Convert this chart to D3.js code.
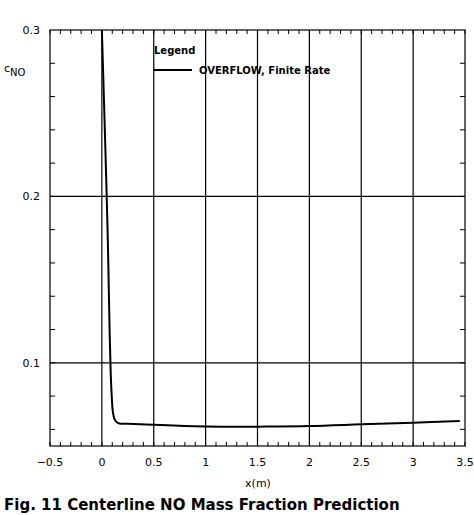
<!DOCTYPE html>
<html><head><meta charset="utf-8">
<script src="https://cdn.jsdelivr.net/npm/d3@7"></script>
<style>body{margin:0;background:#fff}svg{display:block}text{font-family:"DejaVu Sans",sans-serif}</style>
</head><body>
<script>
// centerline NO mass fraction
const xs = [0.0, 0.02, 0.04, 0.055, 0.065, 0.075, 0.085, 0.095, 0.105, 0.12, 0.14, 0.17, 0.25, 0.5, 0.8, 1.0, 1.3, 1.5, 2.0, 2.5, 3.0, 3.45];
const cno = [0.300, 0.258, 0.215, 0.180, 0.150, 0.118, 0.094, 0.080, 0.071, 0.0665, 0.0645, 0.0635, 0.0633, 0.0628, 0.062, 0.0617, 0.0615, 0.0616, 0.062, 0.063, 0.064, 0.065];
const xTicks = [-0.5, 0, 0.5, 1, 1.5, 2, 2.5, 3, 3.5];
const yTicks = [0.1, 0.2, 0.3];
const legendLabel = "OVERFLOW, Finite Rate";

const W = 474, H = 515;
const svg = d3.select("body").append("svg").attr("width", W).attr("height", H);
const x = d3.scaleLinear().domain([-0.5, 3.5]).range([50, 465]);
const y = d3.scaleLinear().domain([0.05, 0.3]).range([446, 30]);

// minor ticks
const minorX = d3.range(-0.5, 3.5001, 0.1);
const minorY = d3.range(0.06, 0.3, 0.02);
svg.append("g").selectAll("line").data(minorX).join("line")
  .attr("x1", d => x(d)).attr("x2", d => x(d)).attr("y1", 446).attr("y2", 442).attr("stroke", "#000");
svg.append("g").selectAll("line").data(minorX).join("line")
  .attr("x1", d => x(d)).attr("x2", d => x(d)).attr("y1", 30).attr("y2", 34).attr("stroke", "#000");
svg.append("g").selectAll("line").data(minorY).join("line")
  .attr("x1", 50).attr("x2", 55).attr("y1", d => y(d)).attr("y2", d => y(d)).attr("stroke", "#000");
svg.append("g").selectAll("line").data(minorY).join("line")
  .attr("x1", 465).attr("x2", 460).attr("y1", d => y(d)).attr("y2", d => y(d)).attr("stroke", "#000");

// grid
svg.append("g").selectAll("line").data(xTicks.slice(1, -1)).join("line")
  .attr("x1", d => x(d)).attr("x2", d => x(d)).attr("y1", 30).attr("y2", 446)
  .attr("stroke", "#000").attr("stroke-width", 1.2);
svg.append("g").selectAll("line").data(yTicks.slice(0, -1)).join("line")
  .attr("x1", 50).attr("x2", 465).attr("y1", d => y(d)).attr("y2", d => y(d))
  .attr("stroke", "#000").attr("stroke-width", 1.2);
svg.append("rect").attr("x", 50).attr("y", 30).attr("width", 415).attr("height", 416)
  .attr("fill", "none").attr("stroke", "#000").attr("stroke-width", 1.2);

// tick labels
svg.append("g").selectAll("text").data(xTicks).join("text")
  .attr("x", d => x(d)).attr("y", 466).attr("text-anchor", "middle").attr("font-size", 11)
  .text(d => d === -0.5 ? "\u22120.5" : String(d));
svg.append("g").selectAll("text").data(yTicks).join("text")
  .attr("x", 40).attr("y", d => y(d) + 4).attr("text-anchor", "end").attr("font-size", 11)
  .text(d => d.toFixed(1));

svg.append("text").attr("x", 258).attr("y", 487).attr("text-anchor", "middle").attr("font-size", 11).text("x(m)");
const yl = svg.append("text").attr("x", 4).attr("y", 72).attr("font-size", 11);
yl.append("tspan").text("c");
yl.append("tspan").attr("dy", 4).attr("font-size", 10).text("NO");

// curve
svg.append("path").datum(xs.map((d, i) => [d, cno[i]]))
  .attr("d", d3.line().x(d => x(d[0])).y(d => y(d[1])).curve(d3.curveCatmullRom.alpha(0.5)))
  .attr("fill", "none").attr("stroke", "#000").attr("stroke-width", 2);

// legend
svg.append("text").attr("x", 154).attr("y", 54).attr("font-size", 10).attr("font-weight", "bold").text("Legend");
svg.append("line").attr("x1", 154).attr("x2", 192).attr("y1", 70).attr("y2", 70).attr("stroke", "#000").attr("stroke-width", 2);
svg.append("text").attr("x", 199).attr("y", 74).attr("font-size", 10).attr("font-weight", "bold").text(legendLabel);

// caption
svg.append("text").attr("x", 4).attr("y", 510).attr("font-size", 15).attr("font-weight", "bold")
  .attr("font-family", "DejaVu Serif").text("Fig. 11  Centerline NO Mass Fraction Prediction");
</script>
</body></html>
